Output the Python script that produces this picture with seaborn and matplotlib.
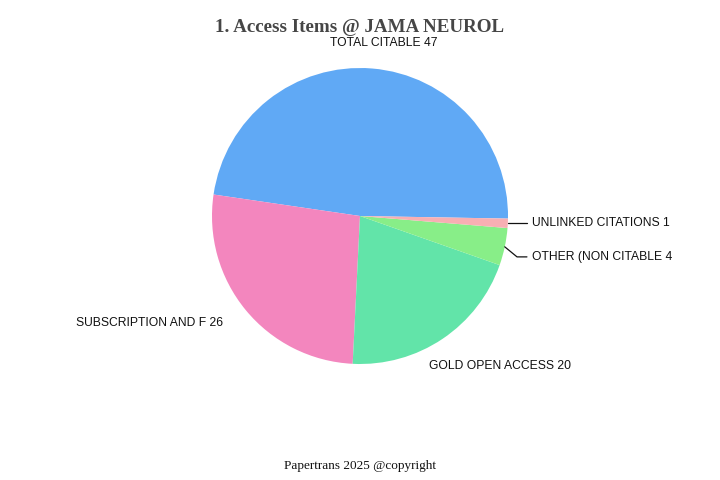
import numpy as np
import matplotlib
matplotlib.use("Agg")
import matplotlib.pyplot as plt
import seaborn as sns

labels = ["TOTAL CITABLE", "SUBSCRIPTION AND F", "GOLD OPEN ACCESS", "OTHER (NON CITABLE", "UNLINKED CITATIONS"]
values = [47, 26, 20, 4, 1]
colors = ["#60A9F5", "#F386BE", "#62E4A9", "#88EE88", "#F8AFB3"]

sns.set_theme(style="white")
plt.rcParams['font.family'] = ['Liberation Sans', 'DejaVu Sans']

START = -1.0
fig = plt.figure(figsize=(7.2, 4.8), dpi=100)
# pie axes: center (360,216) px, radius 148 px
rw, rh = 148 / 720, 148 / 480
cx, cy = 0.5, 1 - 216 / 480
ax = fig.add_axes([cx - rw, cy - rh, 2 * rw, 2 * rh])
wedges, _ = ax.pie(values, colors=colors, startangle=START, counterclock=True,
                   radius=1.0, wedgeprops=dict(linewidth=0))
ax.set_xlim(-1, 1)
ax.set_ylim(-1, 1)
ax.set_aspect("equal")
ax.axis("off")

total = sum(values)
FS = 8.7
TC = "#111111"
# label placement styles
styles = [
    dict(d=1.173, dx=0.065, ha="center", leader=False),
    dict(d=1.139, dx=-0.047, ha="right", leader=False),
    dict(d=1.219, dx=-0.214, ha="left", leader=False),
    dict(drop=0.068, leader=True),
    dict(drop=0.0, leader=True),
]
cum = 0
for lab, v, st in zip(labels, values, styles):
    mid = np.deg2rad((cum + v / 2) / total * 360 + START)
    cum += v
    text = f"{lab} {v}"
    if not st["leader"]:
        x = st["d"] * np.cos(mid) + st["dx"]
        y = st["d"] * np.sin(mid)
        ax.text(x, y, text, ha=st["ha"], va="center", fontsize=FS, color=TC,
                clip_on=False)
    else:
        x0, y0 = np.cos(mid), np.sin(mid)
        y1 = y0 - st["drop"]
        x1 = 1.061 if st["drop"] > 0 else x0
        x2 = 1.128
        ax.plot([x0, x1, x2], [y0, y1, y1], color=TC, lw=0.9, clip_on=False)
        ax.text(1.162, y1, text, ha="left", va="center", fontsize=FS,
                color=TC, clip_on=False)

fig.text(0.5, 1 - 28 / 480, "1. Access Items @ JAMA NEUROL", ha="center", va="center",
         fontsize=13.7, fontweight="bold", color="#464646", family=["Liberation Serif", "DejaVu Serif"])
fig.text(0.5, 1 - 466 / 480, "Papertrans 2025 @copyright", ha="center", va="center",
         fontsize=9.5, color="#111111", family=["Liberation Serif", "DejaVu Serif"])

fig.savefig("out.png", dpi=100, facecolor="white")
